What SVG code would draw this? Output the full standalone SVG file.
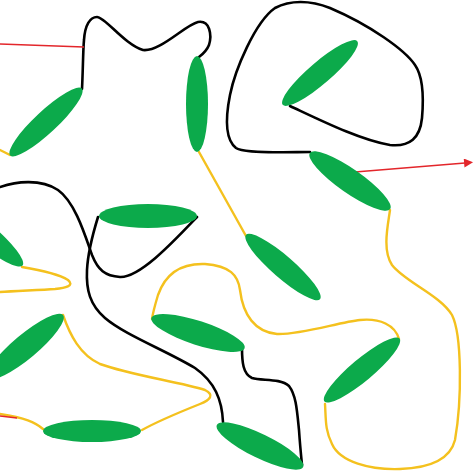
<svg xmlns="http://www.w3.org/2000/svg" width="474" height="474" viewBox="0 0 474 474">
<style>
.k{fill:none;stroke:#000;stroke-width:2.6;stroke-linecap:round;stroke-linejoin:round}
.y{fill:none;stroke:#F4C11E;stroke-width:2.4;stroke-linecap:round}
.r{fill:none;stroke:#E3262B;stroke-width:1.6}
.g{fill:#0CAA4B}
</style>
<defs>
<marker id="ah" viewBox="0 0 10 10" refX="1" refY="5" markerWidth="10" markerHeight="9" markerUnits="userSpaceOnUse" orient="auto">
<path d="M0,0 L10,5 L0,10 Z" fill="#E3262B"/>
</marker>
</defs>
<rect width="474" height="474" fill="#fff"/>
<g id="connectors">
<path class="y" d="M199,152 L246,236"/>
<path class="y" d="M390,210 C388,225 382,250 392,265 C405,282 440,295 452,315 C462,335 462,400 455,440 C450,460 430,468 400,469 C370,470 340,462 332,444 C325,430 326,420 325,404"/>
<path class="y" d="M399,339 C395,325 380,318 360,320 C340,322 300,335 277,334 C255,332 243,315 240,290 C238,275 230,266 205,264 C180,263 165,275 158,295 C155,305 153,312 152,319"/>
<path class="y" d="M22,267 C40,270 60,275 68,280 C75,286 65,288 55,289 C40,290 15,291 0,292"/>
<path class="y" d="M63,315 C70,335 80,355 100,364 C130,375 180,382 205,390 C215,395 210,400 200,404 C185,410 160,420 142,430"/>
<path class="y" d="M43,429 C35,422 25,418 0,414"/>
<path class="y" d="M10,155 L0,150"/>
<path class="k" d="M82,89 C83,70 83,50 84,40 C85,25 90,17 97,17 C105,17 125,45 143,50 C160,52 185,25 198,22 C210,20 212,35 209,45 C207,50 203,54 199,57"/>
<path class="k" d="M290,106 C320,120 360,140 390,145 C410,147 420,138 422,118 C424,95 422,75 415,65 C405,50 370,25 330,8 C310,0 290,0 275,8 C255,22 235,70 230,95 C225,120 226,140 236,148 C245,154 290,152 310,152"/>
<path class="k" d="M0,187 C15,182 40,178 58,190 C75,202 85,235 92,255 C98,270 105,276 120,277 C140,278 175,240 197,217"/>
<path class="k" d="M98,217 C94,230 88,250 87,270 C86,290 90,305 105,318 C125,335 165,350 195,368 C215,382 222,400 223,422"/>
<path class="k" d="M242,348 C242,362 243,374 252,378 C262,381 280,378 289,386 C296,395 297,410 299,430 C300,445 301,455 302,465"/>
<path class="r" d="M0,44 L84,47"/>
<path class="r" d="M355,172 L465,163" marker-end="url(#ah)"/>
<path class="r" d="M0,416 L17,418"/>
</g>
<g id="e1"><ellipse class="g" cx="46" cy="122" rx="49" ry="11" transform="rotate(-43 46 122)"/></g>
<g id="e2"><ellipse class="g" cx="197" cy="104" rx="11" ry="48"/></g>
<g id="e3"><ellipse class="g" cx="148" cy="216" rx="49" ry="12"/></g>
<g id="e4"><ellipse class="g" cx="320" cy="73" rx="49" ry="11" transform="rotate(-40.5 320 73)"/></g>
<g id="e5"><ellipse class="g" cx="350" cy="181" rx="49" ry="12" transform="rotate(35 350 181)"/></g>
<g id="e6"><ellipse class="g" cx="283" cy="267" rx="49" ry="11" transform="rotate(41 283 267)"/></g>
<g id="e7"><ellipse class="g" cx="198" cy="333" rx="49" ry="12" transform="rotate(18 198 333)"/></g>
<g id="e8"><ellipse class="g" cx="362" cy="370" rx="49" ry="11" transform="rotate(-40 362 370)"/></g>
<g id="e9"><ellipse class="g" cx="25.5" cy="346.5" rx="49" ry="12" transform="rotate(-40 25.5 346.5)"/></g>
<g id="e10"><ellipse class="g" cx="92" cy="431" rx="49" ry="11"/></g>
<g id="e11"><ellipse class="g" cx="260" cy="446" rx="48" ry="12" transform="rotate(26 260 446)"/></g>
<g id="e12"><ellipse class="g" cx="-15" cy="234" rx="49" ry="11" transform="rotate(40 -15 234)"/></g>
</svg>
